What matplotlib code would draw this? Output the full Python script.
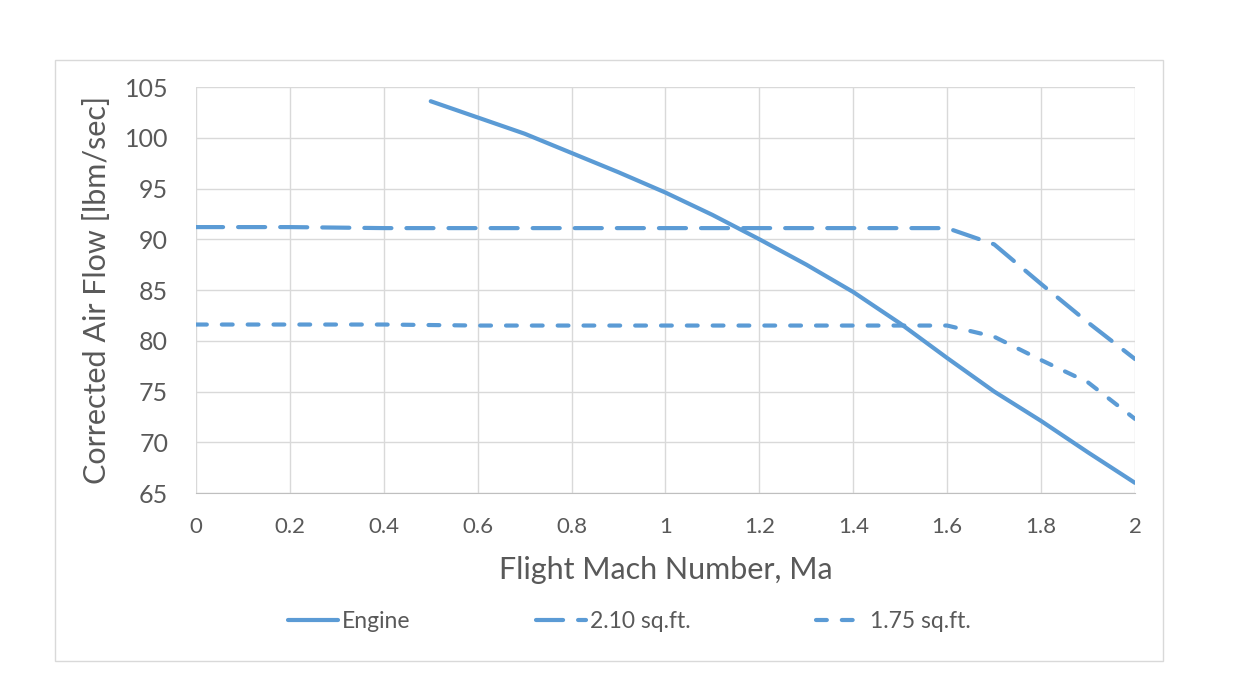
import matplotlib.pyplot as plt
from matplotlib.patches import Rectangle

# data
mach_engine = [0.5, 0.6, 0.7, 0.8, 0.9, 1.0, 1.1, 1.2, 1.3, 1.4, 1.5, 1.6, 1.7, 1.8, 1.9, 2.0]
flow_engine = [103.6, 102.0, 100.4, 98.5, 96.6, 94.6, 92.4, 90.0, 87.5, 84.8, 81.7, 78.3, 75.0, 72.1, 69.0, 66.0]

mach_inlet = [0.0, 0.2, 0.4, 0.6, 0.8, 1.0, 1.2, 1.4, 1.6, 1.7, 1.8, 1.9, 2.0]
flow_210 = [91.2, 91.2, 91.1, 91.1, 91.1, 91.1, 91.1, 91.1, 91.1, 89.5, 85.6, 81.8, 78.2]
flow_175 = [81.6, 81.6, 81.6, 81.5, 81.5, 81.5, 81.5, 81.5, 81.5, 80.4, 78.1, 75.9, 72.3]

labels = ["Engine", "2.10 sq.ft.", "1.75 sq.ft."]
xticks = [0, 0.2, 0.4, 0.6, 0.8, 1.0, 1.2, 1.4, 1.6, 1.8, 2.0]
yticks = [65, 70, 75, 80, 85, 90, 95, 100, 105]

blue = "#5B9BD5"
grey_text = "#595959"
plt.rcParams['font.family'] = ['Lato', 'DejaVu Sans']

fig = plt.figure(figsize=(12.54, 6.94), dpi=100)
fig.patches.append(Rectangle((0.0439, 0.0476), 0.8835, 0.8659, transform=fig.transFigure,
                             fill=False, edgecolor="#D9D9D9", linewidth=1))
ax = fig.add_axes([0.1563, 0.2896, 0.7488, 0.585])

ax.plot(mach_engine, flow_engine, color=blue, lw=3, solid_capstyle='round', label=labels[0])
ax.plot(mach_inlet, flow_210, color=blue, lw=3, dashes=(6.5, 3.6), dash_capstyle='round', label=labels[1])
ax.plot(mach_inlet, flow_175, color=blue, lw=3, dashes=(2.6, 3.6), dash_capstyle='round', label=labels[2])

ax.set_xlim(0, 2)
ax.set_ylim(65, 105)
ax.set_xticks(xticks)
ax.set_xticklabels([f"{t:g}" for t in xticks])
ax.set_yticks(yticks)
ax.grid(True, color="#D9D9D9", lw=1)
ax.set_axisbelow(True)
for s in ["top", "right", "left"]:
    ax.spines[s].set_visible(False)
ax.spines["bottom"].set_color("#BFBFBF")
ax.tick_params(length=0, colors=grey_text)
ax.tick_params(axis='x', labelsize=16, pad=17)
ax.tick_params(axis='y', labelsize=18, pad=20)

ax.set_xlabel("Flight Mach Number, Ma", fontsize=22, color=grey_text, labelpad=14)
ax.set_ylabel("Corrected Air Flow [lbm/sec]", fontsize=22, color=grey_text, labelpad=10)

fig.legend(loc='center', bbox_to_anchor=(0.502, 0.105), ncol=3, frameon=False,
           fontsize=16.5, handlelength=2.18, columnspacing=5.5, handletextpad=0.15,
           labelcolor=grey_text)

fig.savefig("out.png", dpi=100)
